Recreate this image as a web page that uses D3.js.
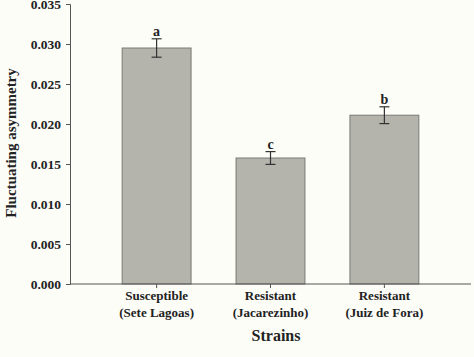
<!DOCTYPE html>
<html><head><meta charset="utf-8">
<script src="https://cdn.jsdelivr.net/npm/d3@7"></script>
<style>
html,body{margin:0;padding:0;background:#fdfdf8;}
svg{display:block;}
text{font-family:"Liberation Serif","Times New Roman",serif;font-weight:bold;fill:#222;}
</style></head><body>
<svg id="c" width="474" height="357"></svg>
<script>
const categories = [["Susceptible","(Sete Lagoas)"],["Resistant","(Jacarezinho)"],["Resistant","(Juiz de Fora)"]];
const values = [0.0295, 0.01575, 0.0211];
const errors = [0.00115, 0.0008, 0.00105];
const letters = ["a","c","b"];
const yTicks = [0,0.005,0.010,0.015,0.020,0.025,0.030,0.035];

const svg = d3.select("#c");
const x = d3.scaleBand().domain(d3.range(categories.length)).range([70,471]).paddingInner(0.395).paddingOuter(0.458);
const y = d3.scaleLinear().domain([0,0.035]).range([284,4]);

// bars
svg.selectAll("rect.bar").data(values).join("rect")
  .attr("x",(d,i)=>x(i)).attr("y",d=>y(d))
  .attr("width",x.bandwidth()).attr("height",d=>y(0)-y(d))
  .attr("fill","#b4b4ac").attr("stroke","#7a7a76").attr("stroke-width",1);

// error bars
const eb = svg.append("g").attr("stroke","#333").attr("stroke-width",1.2);
values.forEach((v,i)=>{
  const cx = x(i)+x.bandwidth()/2;
  eb.append("line").attr("x1",cx).attr("x2",cx).attr("y1",y(v+errors[i])).attr("y2",y(v-errors[i]));
  eb.append("line").attr("x1",cx-5).attr("x2",cx+5).attr("y1",y(v+errors[i])).attr("y2",y(v+errors[i]));
  eb.append("line").attr("x1",cx-5).attr("x2",cx+5).attr("y1",y(v-errors[i])).attr("y2",y(v-errors[i]));
  svg.append("text").attr("x",cx).attr("y",y(v+errors[i])-3).attr("text-anchor","middle")
    .style("font-size","14px").text(letters[i]);
});

// y axis
const yAxis = svg.append("g").attr("transform","translate(70,0)")
  .call(d3.axisLeft(y).tickValues(yTicks).tickFormat(d3.format(".3f")).tickSize(4).tickPadding(5));
yAxis.select(".domain").attr("stroke","#555");
yAxis.selectAll(".tick line").attr("stroke","#555");
yAxis.selectAll("text").style("font-size","13.5px").style("font-family","Liberation Serif").attr("fill","#222");

// x axis
const xAxis = svg.append("g").attr("transform","translate(0,284)")
  .call(d3.axisBottom(x).tickSize(4).tickFormat(""));
xAxis.select(".domain").attr("d","M70,0H471").attr("stroke","#555");
xAxis.selectAll(".tick line").attr("stroke","#555");

// x labels
categories.forEach((c,i)=>{
  const cx = x(i)+x.bandwidth()/2;
  c.forEach((t,j)=>{
    svg.append("text").attr("x",cx).attr("y",300+j*16.5).attr("text-anchor","middle")
      .style("font-size","13px").text(t);
  });
});

svg.append("text").attr("x",276).attr("y",341).attr("text-anchor","middle").style("font-size","16px").text("Strains");
svg.append("text").attr("transform","translate(16,143) rotate(-90)").attr("text-anchor","middle")
  .style("font-size","15px").text("Fluctuating asymmetry");
</script></body></html>
